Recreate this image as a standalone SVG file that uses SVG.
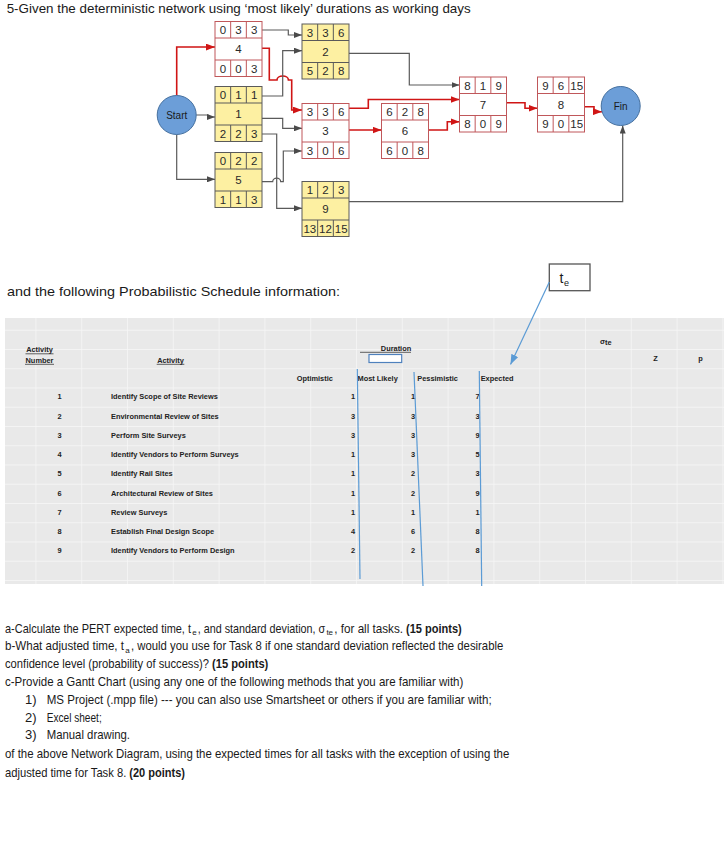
<svg xmlns="http://www.w3.org/2000/svg" width="724" height="845" viewBox="0 0 724 845">
<style>
.t{font-family:"Liberation Sans",Arial,sans-serif;fill:#1a1a1a}
.body{font-size:13px}
.sub{font-size:8px}
.bd{font-weight:bold}
.nd{font-family:"Liberation Sans",Arial,sans-serif;font-size:11.5px;fill:#2a2a2a;text-anchor:middle}
.ny rect,.ny line{stroke:#5a5a5a;stroke-width:1}
.ny rect{fill:#fdf0a2}
.nr rect,.nr line{stroke:#c0575a;stroke-width:1}
.nr rect{fill:#ffffff}
.cg{fill:none;stroke:#5a5a5a;stroke-width:1.2}
.cr{fill:none;stroke:#d01515;stroke-width:1.6}
.tb{font-family:"Liberation Sans",Arial,sans-serif;font-size:7.4px;font-weight:bold;fill:#222}
.blue{stroke:#5b9bd5;stroke-width:1.2;fill:none}
.circ{fill:#6c9ed8;stroke:#45709f;stroke-width:1}
</style>
<defs>
<marker id="ag" viewBox="0 0 8 6" refX="8" refY="3" markerWidth="8" markerHeight="6" orient="auto" markerUnits="userSpaceOnUse"><path d="M0,0 L8,3 L0,6 z" fill="#4a4a4a"/></marker>
<marker id="ar" viewBox="0 0 8 6" refX="8" refY="3" markerWidth="9" markerHeight="7" orient="auto" markerUnits="userSpaceOnUse"><path d="M0,0 L8,3 L0,6 z" fill="#d01515"/></marker>
<marker id="ab" viewBox="0 0 8 6" refX="8" refY="3" markerWidth="10" markerHeight="8" orient="auto" markerUnits="userSpaceOnUse"><path d="M0,0 L8,3 L0,6 z" fill="#5b9bd5"/></marker>
<pattern id="grid" x="35.4" y="387.5" width="45.8" height="19.25" patternUnits="userSpaceOnUse">
<rect width="45.8" height="19.25" fill="#e9e9e9"/>
<path d="M0,0 H45.8 M0,0 V19.25" stroke="#f8f8f8" stroke-width="1.4"/>
</pattern>
</defs>

<text class="t body" x="6.7" y="13" textLength="464" lengthAdjust="spacingAndGlyphs">5-Given the deterministic network using ‘most likely’ durations as working days</text>

<g id="connectors">
<path class="cr" marker-end="url(#ar)" d="M176.7,95.5 V47 H215"/>
<path class="cr" marker-end="url(#ar)" d="M262,48.3 H269.3 V80 H277 a5.7 4 0 0 1 11.4 0 H291.7 V110 H302"/>
<path class="cr" marker-end="url(#ar)" d="M349,108.3 H368.3 V99.5 H459.5"/>
<path class="cr" marker-end="url(#ar)" d="M349,130 H381.5"/>
<path class="cr" marker-end="url(#ar)" d="M427,130 H447.3 V121.7 H459.5"/>
<path class="cr" marker-end="url(#ar)" d="M507,102.7 H525 V108.3 H537.5"/>
<path class="cr" marker-end="url(#ar)" d="M584,106.7 H594 V111.7 H602"/>
<path class="cg" marker-end="url(#ag)" d="M196.2,115 H208 V117 H215"/>
<path class="cg" marker-end="url(#ag)" d="M176.7,134.5 V179.3 H215"/>
<path class="cg" marker-end="url(#ag)" d="M262,30 H288.3 V35 H302"/>
<path class="cg" marker-end="url(#ag)" d="M262,96 H282.7 V50.7 H302"/>
<path class="cg" marker-end="url(#ag)" d="M262,118.3 H282.7 V128.3 H302"/>
<path class="cg" marker-end="url(#ag)" d="M262,134 H276.7 V208.3 H302"/>
<path class="cg" marker-end="url(#ag)" d="M262,181.7 H272.7 a4 3.5 0 0 1 8 0 H283.3 V151 H302"/>
<path class="cg" marker-end="url(#ag)" d="M349,53.3 H409.3 V85 H459.5"/>
<path class="cg" marker-end="url(#ag)" d="M349,201.7 H622.7 V125.5"/>
</g>

<g id="start"><circle class="circ" cx="176.7" cy="115" r="19.5"/><text class="t" x="176.7" y="118.5" font-size="10" text-anchor="middle">Start</text></g>
<g id="fin"><circle class="circ" cx="620.7" cy="106" r="19.5"/><text class="t" x="620.7" y="109.5" font-size="10" text-anchor="middle">Fin</text></g>

<g id="node4" class="nr" transform="translate(215,21.5)">
<rect width="47" height="55"/><line x1="0" y1="16.5" x2="47" y2="16.5"/><line x1="0" y1="38.5" x2="47" y2="38.5"/>
<line x1="15.67" y1="0" x2="15.67" y2="16.5"/><line x1="31.33" y1="0" x2="31.33" y2="16.5"/><line x1="15.67" y1="38.5" x2="15.67" y2="55"/><line x1="31.33" y1="38.5" x2="31.33" y2="55"/>
<text class="nd" x="7.83" y="12.5">0</text><text class="nd" x="23.5" y="12.5">3</text><text class="nd" x="39.17" y="12.5">3</text>
<text class="nd" x="23.5" y="31.5">4</text>
<text class="nd" x="7.83" y="51">0</text><text class="nd" x="23.5" y="51">0</text><text class="nd" x="39.17" y="51">3</text>
</g>
<g id="node1" class="ny" transform="translate(215,86.5)">
<rect width="47" height="55"/><line x1="0" y1="16.5" x2="47" y2="16.5"/><line x1="0" y1="38.5" x2="47" y2="38.5"/>
<line x1="15.67" y1="0" x2="15.67" y2="16.5"/><line x1="31.33" y1="0" x2="31.33" y2="16.5"/><line x1="15.67" y1="38.5" x2="15.67" y2="55"/><line x1="31.33" y1="38.5" x2="31.33" y2="55"/>
<text class="nd" x="7.83" y="12.5">0</text><text class="nd" x="23.5" y="12.5">1</text><text class="nd" x="39.17" y="12.5">1</text>
<text class="nd" x="23.5" y="31.5">1</text>
<text class="nd" x="7.83" y="51">2</text><text class="nd" x="23.5" y="51">2</text><text class="nd" x="39.17" y="51">3</text>
</g>
<g id="node5" class="ny" transform="translate(215,152.5)">
<rect width="47" height="55"/><line x1="0" y1="16.5" x2="47" y2="16.5"/><line x1="0" y1="38.5" x2="47" y2="38.5"/>
<line x1="15.67" y1="0" x2="15.67" y2="16.5"/><line x1="31.33" y1="0" x2="31.33" y2="16.5"/><line x1="15.67" y1="38.5" x2="15.67" y2="55"/><line x1="31.33" y1="38.5" x2="31.33" y2="55"/>
<text class="nd" x="7.83" y="12.5">0</text><text class="nd" x="23.5" y="12.5">2</text><text class="nd" x="39.17" y="12.5">2</text>
<text class="nd" x="23.5" y="31.5">5</text>
<text class="nd" x="7.83" y="51">1</text><text class="nd" x="23.5" y="51">1</text><text class="nd" x="39.17" y="51">3</text>
</g>
<g id="node2" class="ny" transform="translate(302,24)">
<rect width="47" height="55"/><line x1="0" y1="16.5" x2="47" y2="16.5"/><line x1="0" y1="38.5" x2="47" y2="38.5"/>
<line x1="15.67" y1="0" x2="15.67" y2="16.5"/><line x1="31.33" y1="0" x2="31.33" y2="16.5"/><line x1="15.67" y1="38.5" x2="15.67" y2="55"/><line x1="31.33" y1="38.5" x2="31.33" y2="55"/>
<text class="nd" x="7.83" y="12.5">3</text><text class="nd" x="23.5" y="12.5">3</text><text class="nd" x="39.17" y="12.5">6</text>
<text class="nd" x="23.5" y="31.5">2</text>
<text class="nd" x="7.83" y="51">5</text><text class="nd" x="23.5" y="51">2</text><text class="nd" x="39.17" y="51">8</text>
</g>
<g id="node3" class="nr" transform="translate(302,103.5)">
<rect width="47" height="55"/><line x1="0" y1="16.5" x2="47" y2="16.5"/><line x1="0" y1="38.5" x2="47" y2="38.5"/>
<line x1="15.67" y1="0" x2="15.67" y2="16.5"/><line x1="31.33" y1="0" x2="31.33" y2="16.5"/><line x1="15.67" y1="38.5" x2="15.67" y2="55"/><line x1="31.33" y1="38.5" x2="31.33" y2="55"/>
<text class="nd" x="7.83" y="12.5">3</text><text class="nd" x="23.5" y="12.5">3</text><text class="nd" x="39.17" y="12.5">6</text>
<text class="nd" x="23.5" y="31.5">3</text>
<text class="nd" x="7.83" y="51">3</text><text class="nd" x="23.5" y="51">0</text><text class="nd" x="39.17" y="51">6</text>
</g>
<g id="node9" class="ny" transform="translate(302,181.5)">
<rect width="47" height="55"/><line x1="0" y1="16.5" x2="47" y2="16.5"/><line x1="0" y1="38.5" x2="47" y2="38.5"/>
<line x1="15.67" y1="0" x2="15.67" y2="16.5"/><line x1="31.33" y1="0" x2="31.33" y2="16.5"/><line x1="15.67" y1="38.5" x2="15.67" y2="55"/><line x1="31.33" y1="38.5" x2="31.33" y2="55"/>
<text class="nd" x="7.83" y="12.5">1</text><text class="nd" x="23.5" y="12.5">2</text><text class="nd" x="39.17" y="12.5">3</text>
<text class="nd" x="23.5" y="31.5">9</text>
<text class="nd" x="7.83" y="51" font-size="10.5">13</text><text class="nd" x="23.5" y="51" font-size="10.5">12</text><text class="nd" x="39.17" y="51" font-size="10.5">15</text>
</g>
<g id="node6" class="nr" transform="translate(381.5,103.5)">
<rect width="47" height="55"/><line x1="0" y1="16.5" x2="47" y2="16.5"/><line x1="0" y1="38.5" x2="47" y2="38.5"/>
<line x1="15.67" y1="0" x2="15.67" y2="16.5"/><line x1="31.33" y1="0" x2="31.33" y2="16.5"/><line x1="15.67" y1="38.5" x2="15.67" y2="55"/><line x1="31.33" y1="38.5" x2="31.33" y2="55"/>
<text class="nd" x="7.83" y="12.5">6</text><text class="nd" x="23.5" y="12.5">2</text><text class="nd" x="39.17" y="12.5">8</text>
<text class="nd" x="23.5" y="31.5">6</text>
<text class="nd" x="7.83" y="51">6</text><text class="nd" x="23.5" y="51">0</text><text class="nd" x="39.17" y="51">8</text>
</g>
<g id="node7" class="nr" transform="translate(459.5,77)">
<rect width="47" height="55"/><line x1="0" y1="16.5" x2="47" y2="16.5"/><line x1="0" y1="38.5" x2="47" y2="38.5"/>
<line x1="15.67" y1="0" x2="15.67" y2="16.5"/><line x1="31.33" y1="0" x2="31.33" y2="16.5"/><line x1="15.67" y1="38.5" x2="15.67" y2="55"/><line x1="31.33" y1="38.5" x2="31.33" y2="55"/>
<text class="nd" x="7.83" y="12.5">8</text><text class="nd" x="23.5" y="12.5">1</text><text class="nd" x="39.17" y="12.5">9</text>
<text class="nd" x="23.5" y="31.5">7</text>
<text class="nd" x="7.83" y="51">8</text><text class="nd" x="23.5" y="51">0</text><text class="nd" x="39.17" y="51">9</text>
</g>
<g id="node8" class="nr" transform="translate(537.5,77)">
<rect width="47" height="55"/><line x1="0" y1="16.5" x2="47" y2="16.5"/><line x1="0" y1="38.5" x2="47" y2="38.5"/>
<line x1="15.67" y1="0" x2="15.67" y2="16.5"/><line x1="31.33" y1="0" x2="31.33" y2="16.5"/><line x1="15.67" y1="38.5" x2="15.67" y2="55"/><line x1="31.33" y1="38.5" x2="31.33" y2="55"/>
<text class="nd" x="7.83" y="12.5">9</text><text class="nd" x="23.5" y="12.5">6</text><text class="nd" x="39.17" y="12.5" font-size="10.5">15</text>
<text class="nd" x="23.5" y="31.5">8</text>
<text class="nd" x="7.83" y="51">9</text><text class="nd" x="23.5" y="51">0</text><text class="nd" x="39.17" y="51" font-size="10.5">15</text>
</g>

<text class="t body" x="7" y="296" textLength="333" lengthAdjust="spacingAndGlyphs">and the following Probabilistic Schedule information:</text>

<g id="te-box">
<rect x="549.3" y="264" width="40.7" height="26.7" fill="#fff" stroke="#555" stroke-width="1.3"/>
<text class="t" x="559.5" y="283" font-size="14" fill="#4a3020">t</text>
<text class="t" x="564" y="285.5" font-size="9" fill="#2e5fa8">e</text>
</g>

<g id="table">
<rect x="5" y="318" width="719" height="266" fill="url(#grid)"/>
<text class="tb" x="39.5" y="352" text-anchor="middle">Activity</text>
<line x1="25.5" y1="353.8" x2="53.5" y2="353.8" stroke="#222" stroke-width="0.7"/>
<text class="tb" x="39.5" y="362.5" text-anchor="middle">Number</text>
<line x1="25" y1="364.3" x2="54" y2="364.3" stroke="#222" stroke-width="0.7"/>
<text class="tb" x="170.5" y="362.5" text-anchor="middle">Activity</text>
<line x1="156.7" y1="364.3" x2="184.3" y2="364.3" stroke="#222" stroke-width="0.7"/>
<text class="tb" x="396" y="350.5" text-anchor="middle">Duration</text>
<line x1="360" y1="352.3" x2="411" y2="352.3" stroke="#222" stroke-width="0.7"/>
<rect x="369" y="354.5" width="32.7" height="8" fill="#fff" stroke="#4f81bd" stroke-width="1.2"/>
<text class="tb" x="296.7" y="380.5">Optimistic</text>
<text class="tb" x="357.5" y="380.5">Most Likely</text>
<text class="tb" x="417.3" y="380.5">Pessimistic</text>
<text class="tb" x="480.7" y="380.5">Expected</text>
<text class="tb" x="600" y="343.5" font-size="8">σ</text>
<text class="tb" x="605" y="345" font-size="5.5">te</text>
<text class="tb" x="653.3" y="361">Z</text>
<text class="tb" x="698.3" y="361">p</text>

<g text-anchor="end">
<text class="tb" x="61.7" y="399.2">1</text><text class="tb" x="61.7" y="418.5">2</text><text class="tb" x="61.7" y="437.7">3</text>
<text class="tb" x="61.7" y="457">4</text><text class="tb" x="61.7" y="476.2">5</text><text class="tb" x="61.7" y="495.5">6</text>
<text class="tb" x="61.7" y="514.7">7</text><text class="tb" x="61.7" y="534">8</text><text class="tb" x="61.7" y="553.2">9</text>
<text class="tb" x="355" y="399.2">1</text><text class="tb" x="355" y="418.5">3</text><text class="tb" x="355" y="437.7">3</text>
<text class="tb" x="355" y="457">1</text><text class="tb" x="355" y="476.2">1</text><text class="tb" x="355" y="495.5">1</text>
<text class="tb" x="355" y="514.7">1</text><text class="tb" x="355" y="534">4</text><text class="tb" x="355" y="553.2">2</text>
<text class="tb" x="415" y="399.2">1</text><text class="tb" x="415" y="418.5">3</text><text class="tb" x="415" y="437.7">3</text>
<text class="tb" x="415" y="457">3</text><text class="tb" x="415" y="476.2">2</text><text class="tb" x="415" y="495.5">2</text>
<text class="tb" x="415" y="514.7">1</text><text class="tb" x="415" y="534">6</text><text class="tb" x="415" y="553.2">2</text>
<text class="tb" x="479.5" y="399.2">7</text><text class="tb" x="479.5" y="418.5">3</text><text class="tb" x="479.5" y="437.7">9</text>
<text class="tb" x="479.5" y="457">5</text><text class="tb" x="479.5" y="476.2">3</text><text class="tb" x="479.5" y="495.5">9</text>
<text class="tb" x="479.5" y="514.7">1</text><text class="tb" x="479.5" y="534">8</text><text class="tb" x="479.5" y="553.2">8</text>
</g>
<text class="tb" x="111" y="399.2">Identify Scope of Site Reviews</text>
<text class="tb" x="111" y="418.5">Environmental Review of Sites</text>
<text class="tb" x="111" y="437.7">Perform Site Surveys</text>
<text class="tb" x="111" y="457">Identify Vendors to Perform Surveys</text>
<text class="tb" x="111" y="476.2">Identify Rail Sites</text>
<text class="tb" x="111" y="495.5">Architectural Review of Sites</text>
<text class="tb" x="111" y="514.7">Review Surveys</text>
<text class="tb" x="111" y="534">Establish Final Design Scope</text>
<text class="tb" x="111" y="553.2">Identify Vendors to Perform Design</text>

<line class="blue" x1="357.3" y1="369" x2="360" y2="579"/>
<line class="blue" x1="414" y1="372" x2="423" y2="586"/>
<line class="blue" x1="479.3" y1="371" x2="481.7" y2="586"/>
</g>
<line class="blue" x1="549.3" y1="282" x2="510.5" y2="364.5" marker-end="url(#ab)"/>

<g id="questions">
<text class="t body" x="5" y="632.5" textLength="186" lengthAdjust="spacingAndGlyphs">a-Calculate the PERT expected time, t</text>
<text class="t sub" x="192.2" y="635">e</text>
<text class="t body" x="197.8" y="632.5" textLength="127.4" lengthAdjust="spacingAndGlyphs">, and standard deviation, σ</text>
<text class="t sub" x="326.4" y="635">te</text>
<text class="t body" x="334.3" y="632.5" textLength="68.7" lengthAdjust="spacingAndGlyphs">, for all tasks.</text>
<text class="t body bd" x="406" y="632.5" textLength="55.7" lengthAdjust="spacingAndGlyphs">(15 points)</text>

<text class="t body" x="5" y="650.3" textLength="119" lengthAdjust="spacingAndGlyphs">b-What adjusted time, t</text>
<text class="t sub" x="125.2" y="652.8">a</text>
<text class="t body" x="131" y="650.3" textLength="372.3" lengthAdjust="spacingAndGlyphs">, would you use for Task 8 if one standard deviation reflected the desirable</text>

<text class="t body" x="5" y="668.2" textLength="204" lengthAdjust="spacingAndGlyphs">confidence level (probability of success)?</text>
<text class="t body bd" x="212" y="668.2" textLength="56.3" lengthAdjust="spacingAndGlyphs">(15 points)</text>

<text class="t body" x="5" y="686" textLength="458.3" lengthAdjust="spacingAndGlyphs">c-Provide a Gantt Chart (using any one of  the following methods that you are familiar with)</text>
<text class="t body" x="25" y="703.7">1)</text>
<text class="t body" x="46.7" y="703.7" textLength="445" lengthAdjust="spacingAndGlyphs">MS Project (.mpp file) --- you can also use Smartsheet or others if you are familiar with;</text>
<text class="t body" x="25" y="721.5">2)</text>
<text class="t body" x="46.7" y="721.5" textLength="55" lengthAdjust="spacingAndGlyphs">Excel sheet;</text>
<text class="t body" x="25" y="739.3">3)</text>
<text class="t body" x="46.7" y="739.3" textLength="83.3" lengthAdjust="spacingAndGlyphs">Manual drawing.</text>
<text class="t body" x="5" y="758.2" textLength="504.3" lengthAdjust="spacingAndGlyphs">of the above Network Diagram, using the expected times for all tasks with the exception of using the</text>
<text class="t body" x="5" y="776.5" textLength="121.3" lengthAdjust="spacingAndGlyphs">adjusted time for Task 8.</text>
<text class="t body bd" x="129.3" y="776.5" textLength="55.7" lengthAdjust="spacingAndGlyphs">(20 points)</text>
</g>
</svg>
